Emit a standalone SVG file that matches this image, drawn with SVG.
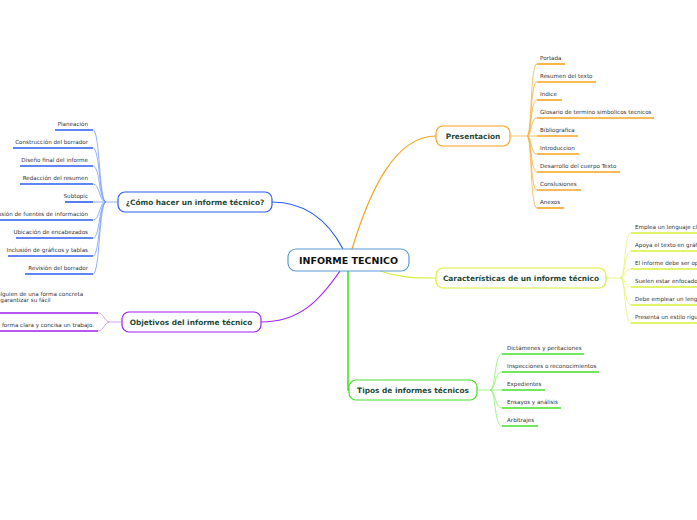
<svg xmlns="http://www.w3.org/2000/svg" width="697" height="520" viewBox="0 0 697 520">
<style>
text{font-family:Verdana,"DejaVu Sans",sans-serif;fill:#333}
.l{font-size:5.6px}
.b{font-size:7.4px;font-weight:bold;fill:#1f4a3a;text-anchor:middle}
.box{fill:#fff;stroke-width:1.2}
.c{fill:none;stroke-width:0.8}
.u{stroke-width:1.6}
.r{text-anchor:end}
</style>
<rect width="697" height="520" fill="#fff"/>
<g id="connectors" fill="none">
<path d="M343 249 C325 215 300 202 272 202" stroke="#2a5ef0" stroke-width="1.2"/>
<path d="M352 249 C370 190 395 136 436 136" stroke="#f7a420" stroke-width="1.2"/>
<path d="M380 271 C400 278 415 278 436 278" stroke="#d9f03a" stroke-width="1.2"/>
<path d="M348 271 L348 390 L349 390" stroke="#44e02a" stroke-width="1.6"/>
<path d="M340 271 C320 300 300 322 261 322" stroke="#a020f0" stroke-width="1.2"/>
<g stroke="#f7b040" class="c">
<path d="M510 136 H527"/>
<path d="M527 136 C532 136 530 64 537 64"/><path d="M527 136 C532 136 530 82 537 82"/><path d="M527 136 C532 136 530 100 537 100"/><path d="M527 136 C532 136 530 118 537 118"/><path d="M527 136 H537"/><path d="M527 136 C532 136 530 154 537 154"/><path d="M527 136 C532 136 530 172 537 172"/><path d="M527 136 C532 136 530 190 537 190"/><path d="M527 136 C532 136 530 208 537 208"/>
</g>
<g stroke="#e6f570" class="c">
<path d="M606 278 H620"/>
<path d="M620 278 C626 278 624 233 631 233"/><path d="M620 278 C626 278 624 251 631 251"/><path d="M620 278 C626 278 624 269 631 269"/><path d="M620 278 C626 278 624 287 631 287"/><path d="M620 278 C626 278 624 305 631 305"/><path d="M620 278 C626 278 624 323 631 323"/>
</g>
<g stroke="#8cf070" class="c">
<path d="M477 390 H490"/>
<path d="M490 390 C496 390 494 354 502 354"/><path d="M490 390 C496 390 494 372 502 372"/><path d="M490 390 H502"/><path d="M490 390 C496 390 494 408 502 408"/><path d="M490 390 C496 390 494 426 502 426"/>
</g>
<g stroke="#7a9cf5" class="c">
<path d="M118 202 H106"/>
<path d="M106 202 C99 202 100 130 93 130"/><path d="M106 202 C99 202 100 148 93 148"/><path d="M106 202 C99 202 100 166 93 166"/><path d="M106 202 C99 202 100 184 93 184"/><path d="M106 202 H93"/><path d="M106 202 C99 202 100 220 93 220"/><path d="M106 202 C99 202 100 238 93 238"/><path d="M106 202 C99 202 100 256 93 256"/><path d="M106 202 C99 202 100 274 93 274"/>
</g>
<g stroke="#c890f0" class="c">
<path d="M122 322 H110"/>
<path d="M110 322 C104 322 104 313 98 313"/><path d="M110 322 C104 322 104 331 98 331"/>
</g>
</g>
<g id="center"><rect class="box" x="288" y="249" width="121" height="22" rx="8" stroke="#5b9bd5"/><text x="348.5" y="264" style="font-size:9.5px;font-weight:bold;text-anchor:middle;fill:#111">INFORME TECNICO</text></g>
<g id="presentacion"><rect class="box" x="436" y="126" width="74" height="20" rx="7" stroke="#f7a420"/><text class="b" x="473" y="139">Presentacion</text></g>
<g id="caracteristicas"><rect class="box" x="436" y="268" width="170" height="20" rx="7" stroke="#d9f03a"/><text class="b" x="521" y="281">Características de un informe técnico</text></g>
<g id="tipos"><rect class="box" x="349" y="380" width="128" height="20" rx="7" stroke="#44e02a"/><text class="b" x="413" y="393">Tipos de informes técnicos</text></g>
<g id="como"><rect class="box" x="118" y="192" width="154" height="20" rx="7" stroke="#2a5ef0"/><text class="b" x="195" y="205">¿Cómo hacer un informe técnico?</text></g>
<g id="objetivos"><rect class="box" x="122" y="312" width="139" height="20" rx="7" stroke="#a020f0"/><text class="b" x="191" y="325">Objetivos del informe técnico</text></g>
<g id="pres-leaves" stroke="#f7a420">
<line class="u" x1="537" y1="64" x2="565" y2="64"/><text class="l" x="540" y="60" stroke="none">Portada</text>
<line class="u" x1="537" y1="82" x2="596" y2="82"/><text class="l" x="540" y="78" stroke="none">Resumen del texto</text>
<line class="u" x1="537" y1="100" x2="562" y2="100"/><text class="l" x="540" y="96" stroke="none">Indice</text>
<line class="u" x1="537" y1="118" x2="654" y2="118"/><text class="l" x="540" y="114" stroke="none">Glosario de termino simbolicos tecnicos</text>
<line class="u" x1="537" y1="136" x2="578" y2="136"/><text class="l" x="540" y="132" stroke="none">Bibliografica</text>
<line class="u" x1="537" y1="154" x2="579" y2="154"/><text class="l" x="540" y="150" stroke="none">Introduccion</text>
<line class="u" x1="537" y1="172" x2="620" y2="172"/><text class="l" x="540" y="168" stroke="none">Desarrollo del cuerpo Texto</text>
<line class="u" x1="537" y1="190" x2="581" y2="190"/><text class="l" x="540" y="186" stroke="none">Conslusiones</text>
<line class="u" x1="537" y1="208" x2="564" y2="208"/><text class="l" x="540" y="204" stroke="none">Anexos</text>
</g>
<g id="car-leaves" stroke="#d9f03a">
<line class="u" x1="631" y1="233" x2="697" y2="233"/><text class="l" x="635" y="229" stroke="none">Emplea un lenguaje cl</text>
<line class="u" x1="631" y1="251" x2="697" y2="251"/><text class="l" x="635" y="247" stroke="none">Apoya el texto en gráf</text>
<line class="u" x1="631" y1="269" x2="697" y2="269"/><text class="l" x="635" y="265" stroke="none">El informe debe ser op</text>
<line class="u" x1="631" y1="287" x2="697" y2="287"/><text class="l" x="635" y="283" stroke="none">Suelen estar enfocado</text>
<line class="u" x1="631" y1="305" x2="697" y2="305"/><text class="l" x="635" y="301" stroke="none">Debe emplear un leng</text>
<line class="u" x1="631" y1="323" x2="697" y2="323"/><text class="l" x="635" y="319" stroke="none">Presenta un estilo rigu</text>
</g>
<g id="tipos-leaves" stroke="#44e02a">
<line class="u" x1="502" y1="354" x2="584" y2="354"/><text class="l" x="507" y="350" stroke="none">Dictámenes y peritaciones</text>
<line class="u" x1="502" y1="372" x2="599" y2="372"/><text class="l" x="507" y="368" stroke="none">Inspecciones o reconocimientos</text>
<line class="u" x1="502" y1="390" x2="545" y2="390"/><text class="l" x="507" y="386" stroke="none">Expedientes</text>
<line class="u" x1="502" y1="408" x2="561" y2="408"/><text class="l" x="507" y="404" stroke="none">Ensayos y análisis</text>
<line class="u" x1="502" y1="426" x2="538" y2="426"/><text class="l" x="507" y="422" stroke="none">Arbitrajes</text>
</g>
<g id="como-leaves" stroke="#2a5ef0">
<line class="u" x1="55" y1="130" x2="93" y2="130"/><text class="l r" x="88" y="126" stroke="none">Planeación</text>
<line class="u" x1="13" y1="148" x2="93" y2="148"/><text class="l r" x="88" y="144" stroke="none">Construcción del borrador</text>
<line class="u" x1="20" y1="166" x2="93" y2="166"/><text class="l r" x="88" y="162" stroke="none">Diseño final del informe</text>
<line class="u" x1="20" y1="184" x2="93" y2="184"/><text class="l r" x="88" y="180" stroke="none">Redacción del resumen</text>
<line class="u" x1="65" y1="202" x2="93" y2="202"/><text class="l r" x="88" y="198" stroke="none">Subtopic</text>
<line class="u" x1="0" y1="220" x2="93" y2="220"/><text class="l r" x="88" y="216" stroke="none">Inclusión de fuentes de información</text>
<line class="u" x1="16" y1="238" x2="93" y2="238"/><text class="l r" x="88" y="234" stroke="none">Ubicación de encabezados</text>
<line class="u" x1="8" y1="256" x2="93" y2="256"/><text class="l r" x="88" y="252" stroke="none">Inclusión de gráficos y tablas</text>
<line class="u" x1="25" y1="274" x2="93" y2="274"/><text class="l r" x="88" y="270" stroke="none">Revisión del borrador</text>
</g>
<g id="obj-leaves" stroke="#a020f0">
<line class="u" x1="0" y1="313" x2="98" y2="313"/>
<text class="l" x="-3" y="296" stroke="none">alguien de una forma concreta</text>
<text class="l" x="-3" y="302" stroke="none">i garantizar su fácil</text>
<line class="u" x1="0" y1="331" x2="98" y2="331"/><text class="l r" x="94" y="327" stroke="none">forma clara y concisa un trabajo.</text>
</g>
</svg>
